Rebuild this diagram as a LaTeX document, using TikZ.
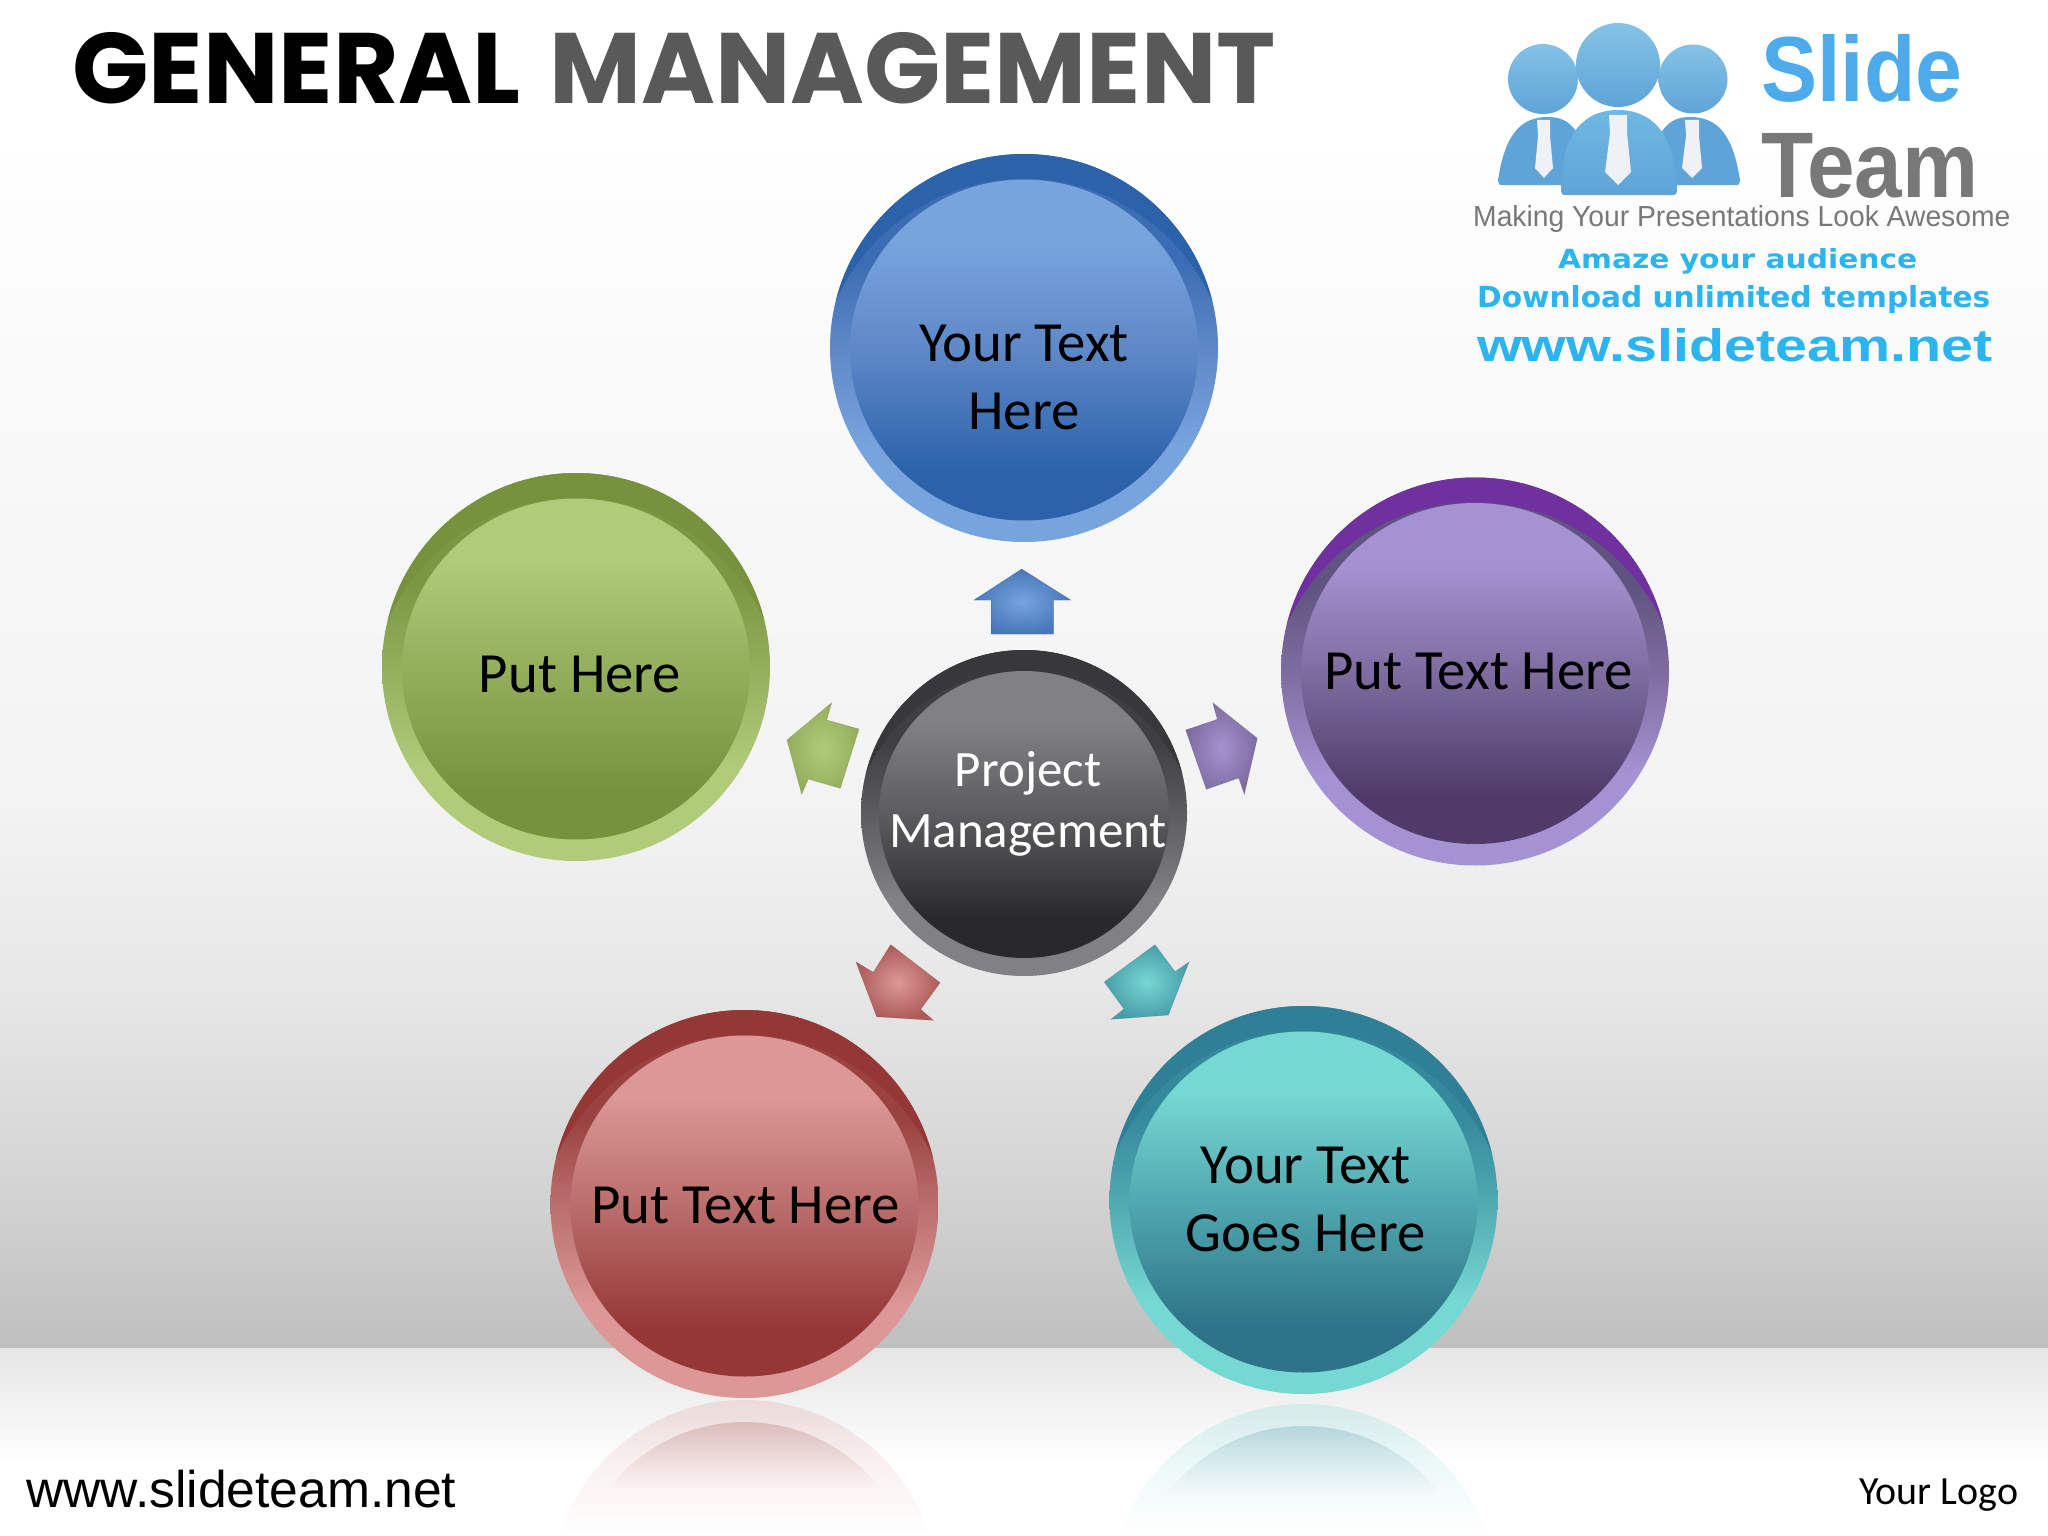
\documentclass[tikz,border=0pt]{standalone}
\usepackage{graphicx}
\usepackage{fontspec}
\usetikzlibrary{fadings,shapes.geometric}
\setmainfont{Carlito}
\newfontfamily\arialf{Liberation Sans}
\newfontfamily\widef{DejaVu Sans}
\newfontfamily\titlef{Poppins}
\definecolor{ctitle}{HTML}{595959}
\definecolor{blA}{HTML}{2B62AA}\definecolor{blU}{HTML}{3C6DB2}\definecolor{blB}{HTML}{5E88C7}\definecolor{blC}{HTML}{78A4DE}
\definecolor{grA}{HTML}{76923C}\definecolor{grU}{HTML}{7C9744}\definecolor{grB}{HTML}{94AF5C}\definecolor{grC}{HTML}{B0CB7A}
\definecolor{puA}{HTML}{7030A0}\definecolor{puU}{HTML}{5F5480}\definecolor{puB}{HTML}{7E6CA0}\definecolor{puC}{HTML}{A592D2}
\definecolor{puD}{HTML}{4F3A68}
\definecolor{reA}{HTML}{953735}\definecolor{reU}{HTML}{9A4240}\definecolor{reB}{HTML}{BA6E6C}\definecolor{reC}{HTML}{DB9896}
\definecolor{teA}{HTML}{2F8097}\definecolor{teU}{HTML}{34899C}\definecolor{teB}{HTML}{50A8B0}\definecolor{teC}{HTML}{76D8D2}
\definecolor{teD}{HTML}{2E7488}
\definecolor{ceA}{HTML}{38373A}\definecolor{ceU}{HTML}{3F3E41}\definecolor{ceB}{HTML}{5C5B5E}\definecolor{ceC}{HTML}{818084}
\definecolor{ceD}{HTML}{29282B}
\definecolor{lgS}{HTML}{4DAAEB}\definecolor{lgG}{HTML}{787878}\definecolor{lgT}{HTML}{2BB4EE}
\definecolor{lgH}{HTML}{6FB8E2}\definecolor{lgB}{HTML}{5FA4D8}\definecolor{lgW}{HTML}{EEF2F6}
\definecolor{wA}{HTML}{FFFFFF}\definecolor{wB}{HTML}{F9F9F9}\definecolor{wC}{HTML}{F3F3F3}
\definecolor{wD}{HTML}{E6E6E7}\definecolor{wF}{HTML}{D2D2D3}\definecolor{wE}{HTML}{BFBFC0}
\newcommand{\defring}[4]{\pgfdeclareverticalshading{#1}{100bp}{color(0bp)=(#4); color(37bp)=(#4); color(50bp)=(#3); color(61bp)=(#2); color(100bp)=(#2)}}
\newcommand{\defdisc}[4]{\pgfdeclareverticalshading{#1}{100bp}{color(0bp)=(#4); color(32bp)=(#4); color(50bp)=(#3); color(66bp)=(#2); color(100bp)=(#2)}}
\defring{blueRingS}{blU}{blB}{blC}\defdisc{blueDiscS}{blC}{blB}{blA}
\defring{greenRingS}{grU}{grB}{grC}\defdisc{greenDiscS}{grC}{grB}{grA}
\defring{purpleRingS}{puU}{puB}{puC}\defdisc{purpleDiscS}{puC}{puB}{puD}
\defring{redRingS}{reU}{reB}{reC}\defdisc{redDiscS}{reC}{reB}{reA}
\defring{tealRingS}{teU}{teB}{teC}\defdisc{tealDiscS}{teC}{teB}{teD}
\defring{centerRingS}{ceU}{ceB}{ceC}\defdisc{centerDiscS}{ceC}{ceB}{ceD}
\pgfdeclareverticalshading{wallS}{100bp}{color(0bp)=(wE); color(25bp)=(wE); color(30.5bp)=(wF); color(37.9bp)=(wD); color(45.3bp)=(wC); color(60.2bp)=(wB); color(70bp)=(wA); color(100bp)=(wA)}
\tikzfading[name=reflRing,top color=transparent!75,bottom color=transparent!100]
\tikzfading[name=reflDisc,top color=transparent!78,bottom color=transparent!100]
\tikzset{
  x=1pt,y=-1pt,
  ringnode/.style={circle,inner sep=0pt,minimum size=388pt,shade,shading=#1},
  discnode/.style={ellipse,inner sep=0pt,minimum width=348pt,minimum height=341pt,shade,shading=#1},
  lab/.style={inner sep=0pt,align=center,text=black,font=\fontsize{56.8}{68}\selectfont},
  clab/.style={inner sep=0pt,align=center,text=white,font=\fontsize{51}{61}\selectfont},
  fitted/.style={inner sep=0pt,anchor=base west},
  lead/.style={draw=#1!70!black,draw opacity=.3,line width=.5pt},
}
\newcommand{\reflection}[4]{% cx, top of ring, ring colour, disc colour
  \begin{scope}
    \clip (#1,#2+194) circle (194pt);
    \fill[#3,path fading=reflRing] (#1-200,#2) rectangle (#1+200,1534);
    \clip (#1,#2+194) circle (172pt);
    \fill[#4,path fading=reflDisc] (#1-200,#2+21) rectangle (#1+200,#2+90);
  \end{scope}
}
\newcommand{\crescent}[4]{% cx, cy, radius, colour
  \begin{scope}
    \clip (#1,#2) circle (#3 pt);
    \fill[#4,even odd rule] (#1-#3*1.3,#2-#3*1.3) rectangle (#1+#3*1.3,#2+#3*1.3) (#1,#2+#3*0.19) circle ({#3*1.062 pt});
  \end{scope}
}
\begin{document}
\begin{tikzpicture}
\useasboundingbox (0,0) rectangle (2048,1536);
% background
\shade[shading=wallS] (0,0) rectangle (2048,1348);
\shade[top color=white!90!black,bottom color=white] (0,1348) rectangle (2048,1465);
\fill[white] (0,1465) rectangle (2048,1536);
% reflections
\reflection{744.5}{1400}{reC}{reA}
\reflection{1303.5}{1404}{teC}{teA}
% title
\node[fitted] (titleA) at (72,104) {\resizebox{448pt}{71pt}{\titlef\bfseries GENERAL}};
\node[fitted,text=ctitle] (titleB) at (549,104) {\resizebox{726pt}{71pt}{\titlef\bfseries MANAGEMENT}};
% logo
\fill[lgB] (1498,180) .. controls (1505,135) and (1520,117) .. (1548,117) .. controls (1570,117) and (1585,130) .. (1590,185) -- (1503,185) .. controls (1499,185) .. (1498,180) -- cycle;
\fill[lgB] (1740,180) .. controls (1733,135) and (1718,117) .. (1690,117) .. controls (1668,117) and (1653,130) .. (1648,185) -- (1735,185) .. controls (1739,185) .. (1740,180) -- cycle;
\fill[lgW] (1537,120) -- (1550,120) -- (1550,136) -- (1553,168) -- (1544,178) -- (1535,168) -- (1538,136) -- cycle;
\fill[lgW] (1685,120) -- (1699,120) -- (1699,136) -- (1702,168) -- (1692,178) -- (1682,168) -- (1686,136) -- cycle;
\node[circle,inner sep=0pt,minimum size=70pt,shade,top color=lgH!85!white,bottom color=lgB] (headL) at (1543,79) {};
\node[circle,inner sep=0pt,minimum size=69pt,shade,top color=lgH!85!white,bottom color=lgB] (headR) at (1693,79) {};
\node[circle,inner sep=0pt,minimum size=84pt,shade,top color=lgH!85!white,bottom color=lgB] (headM) at (1618,65) {};
\shade[top color=lgH,bottom color=lgB] (1561,186) .. controls (1562,132) and (1585,110) .. (1618,110) .. controls (1651,110) and (1674,132) .. (1677,186) .. controls (1677,195) .. (1670,195) -- (1568,195) .. controls (1561,195) .. (1561,186) -- cycle;
\fill[lgW] (1609,115) -- (1627,115) -- (1627,133) -- (1631,172) -- (1618,185) -- (1605,172) -- (1610,133) -- cycle;
\node[fitted,text=lgS] (logoSlide) at (1761,102) {\resizebox{201pt}{67pt}{\arialf\bfseries Slide}};
\node[fitted,text=lgG] (logoTeam) at (1761,197) {\resizebox{217pt}{64pt}{\arialf\bfseries Team}};
\node[fitted,text=lgG] (logoTag) at (1473,226) {\resizebox{537pt}{21pt}{\arialf Making Your Presentations Look Awesome}};
\node[fitted,text=lgT] (logoAmaze) at (1558,268) {\resizebox{359pt}{20pt}{\widef\bfseries Amaze your audience}};
\node[fitted,text=lgT] (logoDown) at (1477,307) {\resizebox{513pt}{22pt}{\widef\bfseries Download unlimited templates}};
\node[fitted,text=lgT] (logoUrl) at (1477,361) {\resizebox{515pt}{33pt}{\arialf\bfseries www.slideteam.net}};
% circles
\node[ringnode=blueRingS] (blueRing) at (1024,348) {};
\crescent{1024}{348}{194}{blA}
\node[discnode=blueDiscS] (blueDisc) at (1024,350) {};
\node[ringnode=greenRingS] (greenRing) at (576,667) {};
\crescent{576}{667}{194}{grA}
\node[discnode=greenDiscS] (greenDisc) at (576,669) {};
\node[ringnode=purpleRingS] (purpleRing) at (1475,671.5) {};
\crescent{1475}{671.5}{194}{puA}
\node[discnode=purpleDiscS] (purpleDisc) at (1475,673.5) {};
\node[ringnode=redRingS] (redRing) at (744.5,1204) {};
\crescent{744.5}{1204}{194}{reA}
\node[discnode=redDiscS] (redDisc) at (744.5,1206) {};
\node[ringnode=tealRingS] (tealRing) at (1303.5,1200) {};
\crescent{1303.5}{1200}{194}{teA}
\node[discnode=tealDiscS] (tealDisc) at (1303.5,1202) {};
\node[circle,inner sep=0pt,minimum size=326pt,shade,shading=centerRingS] (centerRing) at (1024,813) {};
\crescent{1024}{813}{163}{ceA}
\node[ellipse,inner sep=0pt,minimum width=290pt,minimum height=287pt,shade,shading=centerDiscS] (centerDisc) at (1024,814.5) {};
% arrows
\shade[inner color=blC,outer color=blB!55!blA,lead=blA] (1021.7,569) -- (1070.7,600) -- (1053.7,600) -- (1053.7,634) -- (991,634) -- (991,600) -- (974,600) -- cycle;
\shade[inner color=grC,outer color=grB,lead=grA] (787,740) -- (831.7,702.7) -- (826.7,720) -- (859,729) -- (840.3,788.3) -- (808.3,779) -- (801.7,794.3) -- cycle;
\shade[inner color=puC,outer color=puB,lead=puB] (1257.3,738.3) -- (1212.7,702.7) -- (1217.3,719.3) -- (1185.7,730) -- (1206.3,789.3) -- (1238.7,778) -- (1244.3,794.3) -- cycle;
\shade[inner color=reC,outer color=reB!65!reA,lead=reA] (890.7,944.7) -- (940,982.7) -- (920.7,1009.3) -- (933.3,1020.3) -- (876.7,1016.7) -- (856,962) -- (873.3,972.3) -- cycle;
\shade[inner color=teC,outer color=teB!75!teA,lead=teA] (1155,944.7) -- (1104.3,982) -- (1124,1009) -- (1111,1019.3) -- (1168.3,1015) -- (1189,962) -- (1175,971.7) -- cycle;
% labels
\node[lab] (blueText) at (1024,377) {Your Text\\Here};
\node[lab] (greenText) at (580,674) {Put Here};
\node[lab] (purpleText) at (1478.5,671) {Put Text Here};
\node[lab] (redText) at (745.5,1205) {Put Text Here};
\node[lab] (tealText) at (1305.5,1199) {Your Text\\Goes Here};
\node[clab] (centerText) at (1028,804) {Project\\Management};
% footer
\node[fitted,font=\arialf\fontsize{51.6}{60}\selectfont] (footUrl) at (26,1507) {www.slideteam.net};
\node[fitted,font=\fontsize{40}{44}\selectfont] (footLogo) at (1859,1504) {Your Logo};
\end{tikzpicture}
\end{document}
